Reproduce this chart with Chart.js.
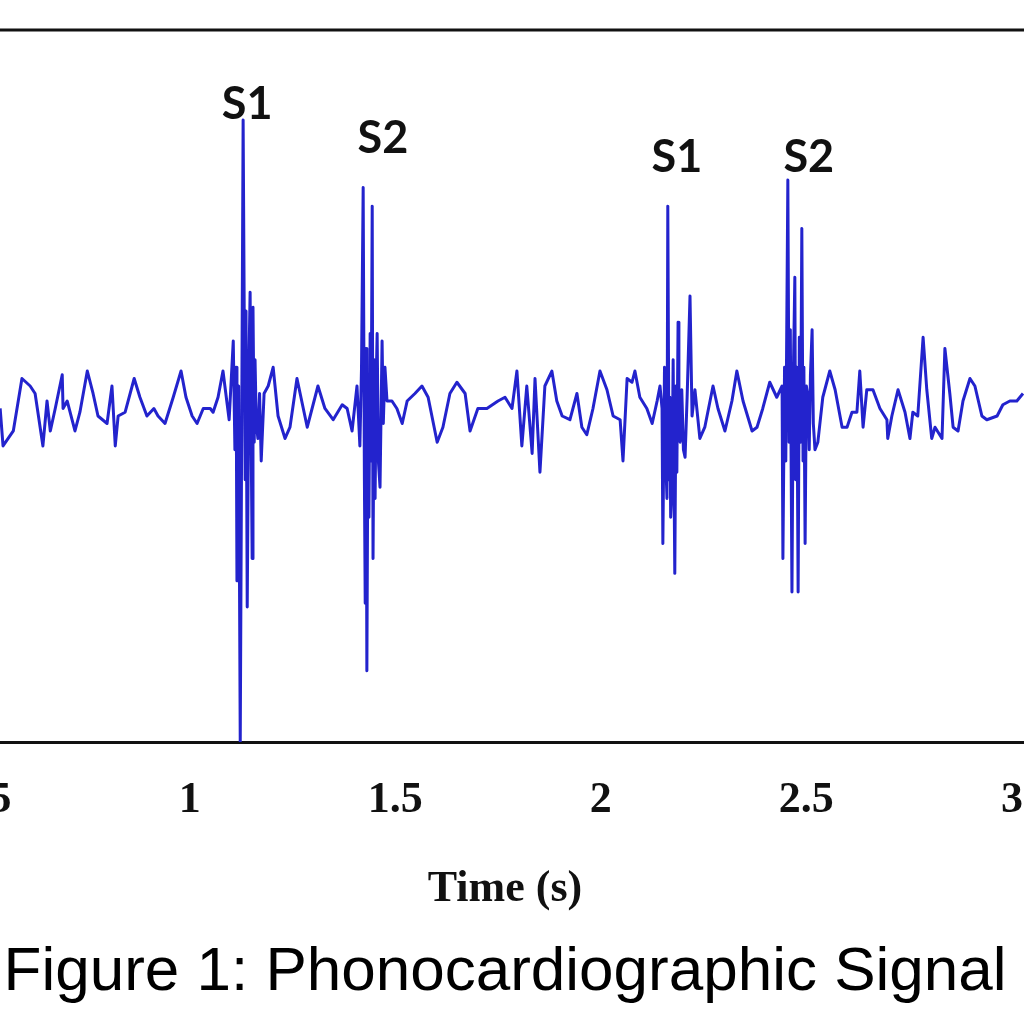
<!DOCTYPE html>
<html>
<head>
<meta charset="utf-8">
<script src="https://cdn.jsdelivr.net/npm/chart.js@4.4.1/dist/chart.umd.min.js"></script>
<style>
  html, body { margin: 0; padding: 0; background: #fff; overflow: hidden; }
  #wrap { position: absolute; left: -80px; top: 0; width: 1170px; height: 1024px; }
</style>
</head>
<body>
<div id="wrap"><canvas id="pcg-signal"></canvas></div>
<script>
// time axis (s) and amplitude
var timeSec = [
  0.539, 0.546, 0.571, 0.592, 0.612, 0.624, 0.643, 0.653, 0.661, 0.673,
  0.690, 0.692, 0.702, 0.721, 0.733, 0.751, 0.765, 0.777, 0.799, 0.811,
  0.819, 0.826, 0.843, 0.865, 0.879, 0.896, 0.913, 0.923, 0.940, 0.960,
  0.979, 0.991, 1.006, 1.018, 1.033, 1.050, 1.057, 1.069, 1.081, 1.096,
  // S1
  1.106, 1.110, 1.113, 1.115, 1.119, 1.123, 1.130, 1.135, 1.137, 1.140,
  1.144, 1.147, 1.150, 1.152, 1.154, 1.157, 1.159, 1.162, 1.166, 1.170,
  1.174, 1.181,
  1.191, 1.203, 1.215, 1.232, 1.244, 1.261, 1.286, 1.312, 1.329, 1.349,
  1.371, 1.383, 1.395, 1.407,
  // S2
  1.414, 1.418, 1.422, 1.425, 1.427, 1.429, 1.431, 1.434, 1.436, 1.439,
  1.441, 1.444, 1.446, 1.449, 1.451, 1.454, 1.456, 1.459, 1.463, 1.468,
  1.471, 1.475, 1.480,
  1.492, 1.504, 1.517, 1.529, 1.548, 1.565, 1.580, 1.602, 1.616, 1.633,
  1.650, 1.670, 1.682, 1.701, 1.723, 1.750, 1.767, 1.784, 1.796, 1.808,
  1.820, 1.833, 1.840, 1.852, 1.864, 1.881, 1.893, 1.906, 1.925, 1.942,
  1.954, 1.966, 1.981, 1.998, 2.015, 2.030, 2.047, 2.054, 2.064, 2.076,
  2.083, 2.095, 2.112, 2.125, 2.137,
  // S1
  2.144, 2.149, 2.151, 2.155, 2.158, 2.161, 2.163, 2.166, 2.168, 2.170,
  2.173, 2.176, 2.180, 2.183, 2.185, 2.188, 2.190, 2.193, 2.197, 2.201,
  2.205, 2.210, 2.217, 2.222, 2.229,
  2.241, 2.253, 2.273, 2.285, 2.302, 2.319, 2.331, 2.346, 2.368, 2.380,
  2.394, 2.411, 2.428,
  // S2
  2.441, 2.443, 2.447, 2.450, 2.455, 2.458, 2.461, 2.465, 2.468, 2.472,
  2.474, 2.477, 2.480, 2.483, 2.486, 2.489, 2.492, 2.494, 2.497, 2.500,
  2.504, 2.507, 2.510, 2.514, 2.517, 2.521, 2.528,
  2.540, 2.557, 2.570, 2.587, 2.599, 2.611, 2.623, 2.630, 2.638, 2.647,
  2.662, 2.679, 2.696, 2.698, 2.708, 2.723, 2.740, 2.752, 2.759, 2.771,
  2.784, 2.793, 2.805, 2.813, 2.830, 2.837, 2.849, 2.857, 2.869, 2.881,
  2.898, 2.910, 2.927, 2.939, 2.964, 2.978, 2.995, 3.012, 3.027
];

var amplitude = [
  -0.01, -0.11, -0.07, 0.07, 0.05, 0.03, -0.11, 0.01, -0.07, -0.01,
  0.08, -0.01, 0.01, -0.07, -0.02, 0.09, 0.03, -0.03, -0.05, 0.05,
  -0.11, -0.03, -0.02, 0.07, 0.02, -0.03, -0.01, -0.03, -0.05, 0.02,
  0.09, 0.02, -0.03, -0.05, -0.01, -0.01, -0.02, 0.02, 0.09, -0.04,
  // S1
  0.17, -0.12, 0.10, -0.47, 0.05, -0.90, 0.76, -0.20, 0.25, -0.54,
  0.10, 0.30, -0.15, -0.41, 0.26, -0.10, 0.12, -0.05, -0.09, 0.03,
  -0.15, 0.03,
  0.05, 0.10, -0.03, -0.09, -0.06, 0.07, -0.06, 0.05, -0.01, -0.04,
  0.00, -0.01, -0.07, 0.05,
  // S2
  -0.11, 0.10, 0.58, -0.20, -0.53, 0.15, -0.71, 0.05, -0.30, 0.19,
  -0.15, 0.53, -0.41, 0.12, -0.25, 0.08, 0.19, -0.15, -0.22, 0.17,
  -0.05, 0.10, 0.01,
  0.01, -0.01, -0.05, 0.01, 0.03, 0.05, 0.02, -0.10, -0.06, 0.03,
  0.06, 0.03, -0.07, -0.01, -0.01, 0.01, 0.02, -0.01, 0.09, -0.11,
  0.05, -0.13, 0.07, -0.18, 0.05, 0.09, 0.01, -0.03, -0.04, 0.03,
  -0.06, -0.08, -0.01, 0.09, 0.04, -0.03, -0.04, -0.15, 0.07, 0.06,
  0.09, 0.02, -0.01, -0.05, 0.01,
  // S1
  0.05, -0.01, -0.37, 0.10, -0.15, -0.25, 0.53, -0.20, 0.02, -0.30,
  -0.23, 0.12, -0.45, 0.05, -0.18, 0.22, -0.05, -0.10, 0.04, -0.12,
  -0.14, 0.02, 0.29, -0.03, 0.04,
  -0.09, -0.06, 0.05, -0.01, -0.07, 0.01, 0.09, 0.01, -0.07, -0.06,
  -0.01, 0.06, 0.02,
  // S2
  0.05, -0.41, 0.10, -0.15, 0.60, -0.10, 0.20, -0.50, 0.05, 0.34,
  -0.20, 0.10, -0.50, 0.18, -0.10, 0.47, -0.15, 0.10, -0.37, 0.05,
  0.02, -0.12, 0.08, 0.20, -0.05, -0.12, -0.10,
  0.02, 0.09, 0.04, -0.06, -0.06, -0.02, -0.02, 0.09, -0.06, 0.04,
  0.04, -0.01, -0.04, -0.09, -0.03, 0.04, -0.02, -0.09, -0.02, -0.03,
  0.18, 0.04, -0.09, -0.06, -0.09, 0.15, 0.03, -0.06, -0.07, 0.01,
  0.07, 0.05, -0.03, -0.04, -0.03, 0.00, 0.01, 0.01, 0.03
];

var tickValues = [0.5, 1, 1.5, 2, 2.5, 3];

// heart sound markers
var peakLabels = ['S1', 'S2', 'S1', 'S2'];
var peakTimes = [1.14, 1.47, 2.185, 2.506];
var peakLevels = [0.80, 0.71, 0.66, 0.66];

var points = timeSec.map(function(t, i) {
    return { x: t, y: amplitude[i] };
});

// top frame line + S1/S2 labels
var extras = {
    id: 'extras',
    afterDraw: function(chart) {
        var ctx = chart.ctx;
        var area = chart.chartArea;
        var xs = chart.scales.x;
        var ys = chart.scales.y;
        ctx.save();
        ctx.strokeStyle = '#111';
        ctx.lineWidth = 3;
        ctx.beginPath();
        ctx.moveTo(area.left, area.top);
        ctx.lineTo(area.right, area.top);
        ctx.stroke();

        ctx.fillStyle = '#111';
        ctx.font = 'bold 45px Lato';
        ctx.textAlign = 'center';
        ctx.textBaseline = 'middle';
        for (var i = 0; i < peakLabels.length; i++) {
            ctx.fillText(peakLabels[i], xs.getPixelForValue(peakTimes[i]), ys.getPixelForValue(peakLevels[i]));
        }
        ctx.restore();
    }
};

new Chart(document.getElementById('pcg-signal'), {
    type: 'line',
    data: {
        datasets: [{
            label: 'PCG',
            data: points,
            borderColor: 'rgb(35, 35, 205)',
            borderWidth: 3,
            borderJoinStyle: 'round',
            pointRadius: 0,
            tension: 0,
            fill: false
        }]
    },
    options: {
        responsive: true,
        maintainAspectRatio: false,
        animation: false,
        layout: { padding: { top: 30, left: 30, right: 30, bottom: 0 } },
        plugins: {
            legend: { display: false },
            tooltip: { enabled: false },
            title: {
                display: true,
                position: 'bottom',
                text: 'Figure 1: Phonocardiographic Signal',
                color: '#000',
                font: { family: '"Liberation Sans", Arial', size: 62, weight: 'normal' },
                padding: { top: 8, bottom: 14 }
            }
        },
        scales: {
            x: {
                type: 'linear',
                min: 0.417,
                max: 3.117,
                afterBuildTicks: function(scale) {
                    scale.ticks = tickValues.map(function(v) { return { value: v }; });
                },
                grid: { display: false, drawTicks: false },
                border: { display: true, color: '#111', width: 3 },
                ticks: {
                    color: '#111',
                    padding: 32,
                    maxRotation: 0,
                    autoSkip: false,
                    font: { family: '"Liberation Serif", "Times New Roman"', size: 44, weight: 'bold' },
                    callback: function(value) { return String(value); }
                },
                title: {
                    display: true,
                    text: 'Time (s)',
                    color: '#111',
                    font: { family: '"Liberation Serif", "Times New Roman"', size: 44, weight: 'bold' },
                    padding: { top: 4, bottom: 12 }
                }
            },
            y: {
                display: false,
                min: -0.9,
                max: 1.0
            }
        }
    },
    plugins: [extras]
});
</script>
</body>
</html>
